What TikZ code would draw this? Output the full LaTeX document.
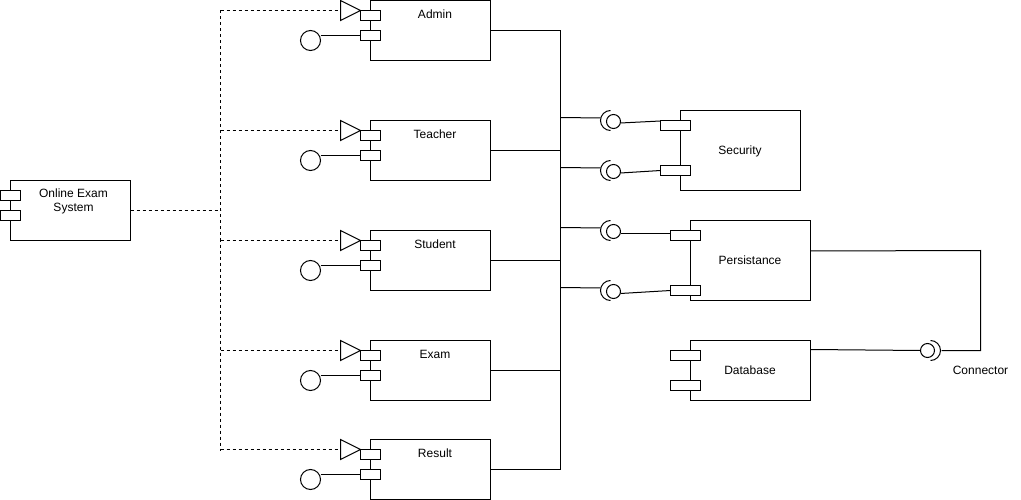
\documentclass[tikz,border=0pt]{standalone}
\usepackage{fontspec}
\setmainfont{Liberation Sans}
\tikzset{
  line/.style={draw=black,line width=1pt},
  compbox/.style={line,fill=white,rectangle,anchor=north west,inner sep=0pt,outer sep=0pt,minimum width=120pt},
  port/.style={line,fill=white,rectangle,anchor=north west,inner sep=0pt,outer sep=0pt,minimum width=#1,minimum height=10pt},
  port/.default=20pt,
  lollipop/.style={line,circle,inner sep=0pt,outer sep=0pt,minimum size=#1},
  txt/.style={font=\fontsize{12pt}{14pt}\selectfont,inner sep=0pt,align=center,text=black}
}
\begin{document}
\begin{tikzpicture}[x=1pt,y=-1pt]
\useasboundingbox (0,0) rectangle (1021,500);
\fill[white] (0,0) rectangle (1021,500);
\begin{scope}[shift={(0.5,0.5)}]
% Online Exam System
\node[compbox,minimum height=60pt] (sys) at (10,180) {};
\node[port] (sysP1) at (0,190) {};
\node[port] (sysP2) at (0,210) {};
\node[txt] (sysL) at (73,201.2) {Online Exam\\System};
\coordinate (dashTop) at (220,10);
\coordinate (dashMid) at (220,210);
\coordinate (dashBot) at (220,450);
\coordinate (busTop) at (560,30);
\coordinate (busBot) at (560,469);
\draw[line,dash pattern=on 3pt off 3pt] (sys.east |- dashMid) -- (dashMid);
\draw[line,dash pattern=on 3pt off 3pt] (dashTop) -- (dashBot);
\draw[line] (busTop) -- (busBot);
% Left column components
\foreach \n/\lab/\y/\ty/\tx in {a/Admin/0/13.5/434.5,t/Teacher/120/133.5/434.5,s/Student/230/243.5/434.5,e/Exam/340/353.5/434.5,r/Result/439/452.5/434.5}{
  \node[compbox,minimum height=60pt] (box\n) at (370,\y) {};
  \node[port] (p1\n) at (360,\y+10) {};
  \node[port] (p2\n) at (360,\y+30) {};
  \node[txt] (lab\n) at (\tx,\ty) {\lab};
  \coordinate (tri\n) at (340,\y+10);
  \node[lollipop=20pt,fill=white] (c\n) at (310,\y+40) {};
  \draw[line,dash pattern=on 3pt off 3pt] (220,\y+10) -- (tri\n);
  \draw[line,fill=white] (tri\n) -- ++(0,-10) -- ++(20,10) -- ++(-20,10) -- cycle;
  \draw[line] (c\n.east |- p2\n.west) -- (p2\n.west);
  \draw[line] (box\n.east |- 0,\y+30) -- (560,\y+30);
}
% Right components
\node[compbox,minimum height=80pt] (sec) at (680,110) {};
\node[port=30pt] (secP1) at (660,120) {};
\node[port=30pt] (secP2) at (660,165) {};
\node[txt] (secL) at (739.5,151) {Security};
\node[compbox,minimum height=80pt] (per) at (690,220) {};
\node[port=30pt] (perP1) at (670,230) {};
\node[port=30pt] (perP2) at (670,285) {};
\node[txt] (perL) at (749.5,259.5) {Persistance};
\node[compbox,minimum height=60pt] (db) at (690,340) {};
\node[port=30pt] (dbP1) at (670,350) {};
\node[port=30pt] (dbP2) at (670,380) {};
\node[txt] (dbL) at (749.5,369.5) {Database};
% Required interfaces
\foreach \n/\cy/\py/\target/\oa/\ob in {i1/121/117/secP1/-1.5/4.5,i2/171/167/secP2/-1.5/0,i3/231/227/perP1/-2/2,i4/291/287/perP2/-2/0}{
  \node[lollipop=14pt] (\n) at (613,\cy) {};
  \coordinate (\n bus) at (560,\py);
  \coordinate (\n sock) at (600,\py+0.5);
  \draw[line] (\n bus) -- (\n sock);
  \draw[line] (610,\cy-11) arc[start angle=90,end angle=270,radius=10pt];
  \draw[line] ([yshift=\oa pt]\n.east) -- ([yshift=\ob pt]\target.west);
}
% Connector
\node[lollipop=14pt] (con) at (927,350) {};
\coordinate (conArc) at (941,350);
\coordinate (conCorner) at (980,350);
\coordinate (perCorner) at (980,250);
\draw[line] (930,340) arc[start angle=90,end angle=-90,radius=10pt];
\draw[line] (810,349) -- (con.west);
\draw[line] (conArc) -- (conCorner) -- (perCorner) -- ([yshift=9.5pt]per.east);
\node[txt] (conL) at (980,369.5) {Connector};
\end{scope}
\end{tikzpicture}
\end{document}
